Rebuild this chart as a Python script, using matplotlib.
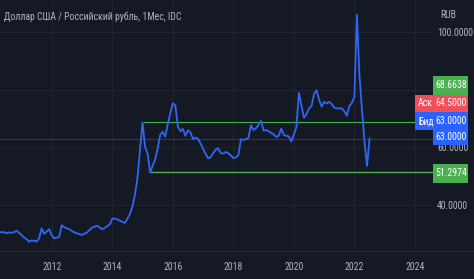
import numpy as np
import pandas as pd
import matplotlib
matplotlib.use("Agg")
import matplotlib.pyplot as plt
from matplotlib import font_manager
from matplotlib.patches import Rectangle

# narrow font if one is installed, else condensed DejaVu
names = {f.name for f in font_manager.fontManager.ttflist}
narrow = None
for cand in ['Roboto Condensed', 'Liberation Sans Narrow', 'Open Sans Condensed', 'Arial Narrow']:
    if cand in names:
        narrow = cand
        break
if narrow:
    plt.rcParams['font.family'] = [narrow, 'DejaVu Sans']
    FS = 7.0
else:
    plt.rcParams['font.family'] = ['DejaVu Sans']
    plt.rcParams['font.stretch'] = 'condensed'
    FS = 5.6

# ---- data: monthly closes USD/RUB, Apr 2010 .. Jul 2022 ----
start_month = "2010-04-01"
usd_rub = [
    30.4, 30.6, 30.6, 30.2, 30.5, 30.4, 30.5, 31.1, 30.4,                # 2010
    29.6, 28.8, 28.2, 27.3, 27.7, 27.6, 27.3, 28.4, 31.9, 30.0, 30.8, 31.6,  # 2011
    29.5, 28.4, 28.7, 29.0, 33.0, 32.3, 31.9, 31.6, 31.0, 30.5, 30.2, 29.9,  # 2012
    29.6, 30.1, 30.5, 31.3, 32.2, 32.5, 32.8, 32.2, 31.6, 32.0, 32.7, 33.2,  # 2013
    35.2, 35.3, 35.0, 34.6, 34.1, 33.8, 35.3, 36.8, 39.5, 43.5, 49.5, 59.0,  # 2014
    68.66, 60.2, 57.8, 51.3, 53.5, 55.8, 59.6, 64.3, 65.4, 63.7, 68.0, 71.8,  # 2015
    75.3, 74.6, 67.2, 65.6, 66.4, 64.0, 65.9, 65.2, 62.9, 63.4, 63.0, 61.3,  # 2016
    59.5, 57.8, 56.2, 56.6, 58.0, 59.2, 59.6, 58.0, 57.8, 58.4, 58.0, 57.2,  # 2017
    56.3, 56.5, 57.3, 62.8, 62.6, 62.8, 63.3, 67.7, 66.0, 66.6, 67.8, 69.2,  # 2018
    65.8, 66.0, 65.6, 65.0, 64.5, 63.6, 64.0, 66.5, 64.3, 64.0, 63.8, 62.0,  # 2019
    64.5, 67.0, 78.9, 74.5, 70.3, 71.5, 73.5, 74.3, 78.5, 79.8, 76.5, 74.1,  # 2020
    75.8, 75.2, 75.8, 75.0, 73.8, 73.5, 73.5, 73.5, 72.5, 71.0, 74.3, 75.5,  # 2021
    77.5, 106.0, 85.0, 73.0, 62.0, 53.5, 63.0,                          # 2022
]
year_ticks = [2012, 2014, 2016, 2018, 2020, 2022, 2024]
price_ticks = [40, 60, 80, 100]
price_labels = ["40.0000", "60.0000", "", "100.0000"]   # 80 is hidden behind a tag
upper_level, upper_start = 68.6638, "2015-01-01"
lower_level, lower_start = 51.2974, "2015-04-01"
ask_price = 64.5
bid_price = 63.0

W, H = 474, 279
BG = '#151924'
GRID = '#1f2431'
TXT = '#b2b5be'
BLUE = '#2f66f5'
GREEN = '#4caf50'
RED = '#ef4e5b'


def frac_year(s):
    d = pd.Timestamp(s)
    return d.year + (d.month - 1) / 12


dates = pd.date_range(start_month, periods=len(usd_rub), freq="MS")
t = dates.year + (dates.month - 1) / 12

fig = plt.figure(figsize=(W / 100, H / 100), dpi=100, facecolor=BG)
ax = fig.add_axes([0, 29 / H, 433 / W, 250 / H])
ax.set_facecolor(BG)

ax.set_xlim(2010.292, 2024.596)
ax.set_ylim(24.4, 111.1)

for s in ax.spines.values():
    s.set_visible(False)

ax.set_xticks(year_ticks)
ax.set_xticklabels([str(y) for y in year_ticks])
ax.set_yticks(price_ticks)
ax.set_yticklabels(price_labels)
ax.yaxis.tick_right()
ax.tick_params(axis='x', length=0, pad=9, colors=TXT, labelsize=FS)
ax.tick_params(axis='y', length=0, pad=3, colors=TXT, labelsize=FS)
ax.grid(True, color=GRID, linewidth=0.8)
ax.set_axisbelow(True)

# bid price line
ax.axhline(bid_price, color='#343a55', linewidth=0.8, zorder=1)

# support / resistance levels
ax.hlines(upper_level, frac_year(upper_start), 2024.596, color=GREEN, linewidth=0.8, zorder=2)
ax.hlines(lower_level, frac_year(lower_start), 2024.596, color=GREEN, linewidth=1.0, zorder=2)

ax.plot(t, usd_rub, color=BLUE, linewidth=1.3, zorder=3, solid_joinstyle='round')

# bottom separator
fig.add_artist(plt.Line2D([0, 1], [1 - 250.5 / H, 1 - 250.5 / H], color='#262b38',
                          linewidth=0.8, transform=fig.transFigure))

fig.text(4 / W, 1 - 17 / H, "Доллар США / Российский рубль, 1Мес, IDC",
         color=TXT, fontsize=FS, va='center', ha='left')
fig.text(440 / W, 1 - 15 / H, "RUB", color=TXT, fontsize=FS, va='center', ha='left')


def tag(x0, x1, y0, y1, color, value, name=None):
    fig.add_artist(Rectangle((x0 / W, 1 - y1 / H), (x1 - x0) / W, (y1 - y0) / H,
                             transform=fig.transFigure, facecolor=color,
                             edgecolor='none', zorder=5))
    yc = 1 - (y0 + y1) / 2 / H
    fig.text(451 / W, yc, value, color='white', fontsize=FS, ha='center',
             va='center', zorder=6)
    if name:
        fig.text(418 / W, yc, name, color='white', fontsize=FS, ha='left',
                 va='center', zorder=6)


tag(433, 468, 76, 95, GREEN, f"{upper_level:.4f}")
tag(415, 468, 95, 112, RED, f"{ask_price:.4f}", "Аск")
tag(415, 468, 112, 130, '#2962ff', f"{bid_price:.4f}", "Бид")
tag(433, 468, 130, 145, '#2962ff', f"{bid_price:.4f}")
tag(433, 468, 164, 183, GREEN, f"{lower_level:.4f}")

fig.savefig("out.png", dpi=100, facecolor=BG)
